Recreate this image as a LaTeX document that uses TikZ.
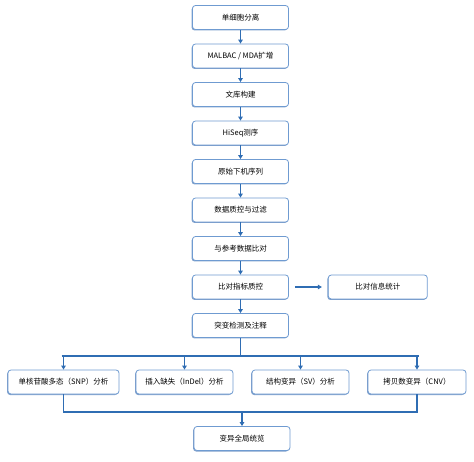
\documentclass[tikz,border=0pt]{standalone}
\usepackage{fontspec}
\setmainfont{Noto Sans CJK SC}
\usepackage{tikz}
\usetikzlibrary{positioning,arrows.meta,shadows}
\definecolor{boxline}{HTML}{6F9BD1}
\definecolor{boxshade}{HTML}{4A78B5}
\definecolor{arrline}{HTML}{2F6DB3}

\begin{document}
\begin{tikzpicture}[x=1pt, y=-1pt,
  box/.style={draw=boxline, line width=0.8pt, rounded corners=3pt, fill=white, align=center,
    font=\fontsize{7.5}{9}\selectfont, inner sep=2pt, minimum width=96pt, minimum height=24pt,
    drop shadow={shadow xshift=-0.9pt, shadow yshift=-1pt, fill=boxshade, opacity=0.7}},
  arr/.style={-{Triangle[length=4pt, width=4.5pt]}, line width=1.2pt, draw=arrline},
  link/.style={line width=1.2pt, draw=arrline}]
\useasboundingbox (0,0) rectangle (474,462);
% main column
\node[box] at (240.5,17.5) (sep) {单细胞分离};
\node[box, below=13.7pt of sep] (amp) {MALBAC / MDA扩增};
\node[box, below=13.7pt of amp] (lib) {文库构建};
\node[box, below=13.7pt of lib] (seq) {HiSeq测序};
\node[box, below=13.7pt of seq] (raw) {原始下机序列};
\node[box, below=13.7pt of raw] (qc) {数据质控与过滤};
\node[box, below=13.7pt of qc] (map) {与参考数据比对};
\node[box, below=13.7pt of map] (mapqc) {比对指标质控};
\node[box, below=13.7pt of mapqc] (mut) {突变检测及注释};
\node[box, minimum width=99pt, right=39pt of mapqc] (stat) {比对信息统计};
% variant analyses
\node[box, minimum width=111pt] at (63.5,382) (snp) {单核苷酸多态（SNP）分析};
\node[box, minimum width=97pt] at (184.5,382) (indel) {插入缺失（InDel）分析};
\node[box, minimum width=97pt] at (300.5,382) (sv) {结构变异（SV）分析};
\node[box, minimum width=98pt] at (417,382) (cnv) {拷贝数变异（CNV）};
\node[box] at (242,438.5) (all) {变异全局统览};
% connectors
\foreach \a/\b in {sep/amp, amp/lib, lib/seq, seq/raw, raw/qc, qc/map, map/mapqc, mapqc/mut}
  \draw[arr] (\a) -- (\b);
\draw[arr] ([xshift=6pt]mapqc.east) -- ([xshift=-6pt]stat.west);
\coordinate (split) at (240.5,356);
\coordinate (join) at (242,412);
\draw[link] (mut) -- (split);
\draw[link] ([xshift=-2pt]split -| snp) -- ([xshift=2pt]split -| cnv);
\foreach \n in {snp, indel, sv, cnv}
  \draw[arr] (split -| \n) -- (\n);
\draw[link] (snp) -- (join -| snp) -- (join -| cnv) -- (cnv);
\draw[arr] (join) -- (all);
\end{tikzpicture}
\end{document}
